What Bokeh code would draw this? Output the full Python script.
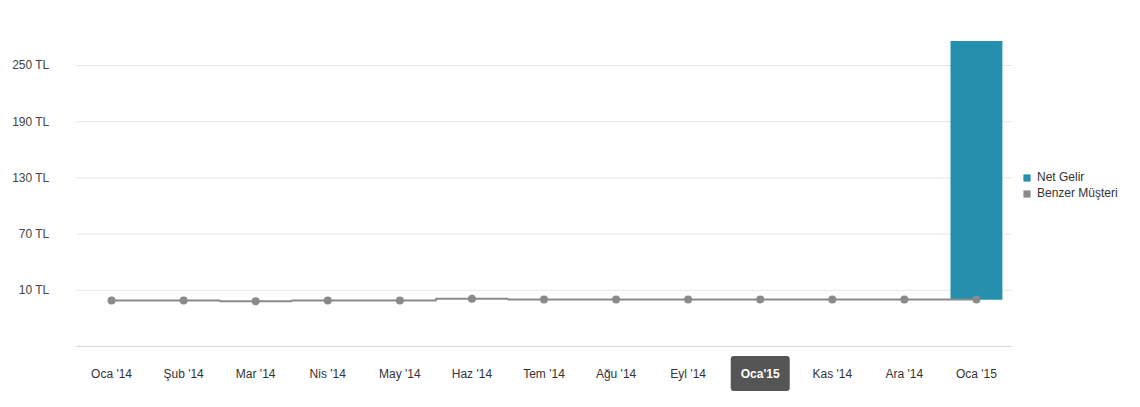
from bokeh.plotting import figure
from bokeh.models import (Range1d, FixedTicker, ColumnDataSource,
                          Legend, LegendItem)
from bokeh.core.properties import value
from bokeh.embed import file_html
from bokeh.resources import INLINE

categories = ["Oca '14", "Şub '14", "Mar '14", "Nis '14", "May '14", "Haz '14",
              "Tem '14", "Ağu '14", "Eyl '14", "Oca'15", "Kas '14", "Ara '14", "Oca '15"]
net_gelir_cat = ["Oca '15"]
net_gelir = [276]
benzer_musteri = [-0.8, -0.8, -1.8, -0.8, -0.8, 1.1, 0.3, 0.3, 0.3, 0.3, 0.3, 0.3, 0.3]
y_ticks = [10, 70, 130, 190, 250]
y_min, y_max = -50, 282
highlight_label = "Oca'15"

FONT = "Arial, Liberation Sans, sans-serif"
TEAL = "#2490ae"
GRAY = "#8a8a8a"

W, H = 1140, 407
LEFT, TOP = 75, 35
PLOT_W, PLOT_H = 937, 311          # the visible chart area (gridlines / axis line)
n = len(categories)
px_x = PLOT_W / n                  # pixels per category
px_y = PLOT_H / (y_max - y_min)    # pixels per TL

frame_w = W - LEFT
frame_h = H - TOP
x_end = frame_w / px_x
y_bottom = y_max - frame_h / px_y

pos = {c: i + 0.5 for i, c in enumerate(categories)}

p = figure(width=W, height=H, output_backend="svg", toolbar_location=None,
           x_range=Range1d(0, x_end), y_range=Range1d(y_bottom, y_max),
           min_border_left=LEFT, min_border_right=0, min_border_top=TOP,
           min_border_bottom=0)
p.outline_line_color = None
p.background_fill_color = "white"
p.xaxis.visible = False
p.xgrid.grid_line_color = None
p.ygrid.grid_line_color = None

# gridlines and axis line limited to the chart area
p.segment(x0=[0] * len(y_ticks), x1=[n] * len(y_ticks), y0=y_ticks, y1=y_ticks,
          line_color="#e6e6e6", line_width=1)
p.segment(x0=[0], x1=[n], y0=[y_min], y1=[y_min], line_color="#d8d8d8", line_width=1)

bars = p.vbar(x=[pos[c] for c in net_gelir_cat], top=net_gelir, bottom=0, width=0.72,
              fill_color=TEAL, line_color=None)
src = ColumnDataSource(dict(x=[pos[c] for c in categories], y=benzer_musteri))
p.step(x="x", y="y", source=src, mode="center", line_color=GRAY, line_width=2)
p.scatter(x="x", y="y", source=src, size=8, fill_color=GRAY, line_color=None)

dummy = p.vbar(x=[0.5], top=[0], bottom=[0], width=0.0,
               fill_color=GRAY, line_color=None)

# y axis
p.yaxis.ticker = FixedTicker(ticks=y_ticks)
p.yaxis.major_label_overrides = {t: f"{t} TL" for t in y_ticks}
p.yaxis.axis_line_color = None
p.yaxis.major_tick_line_color = None
p.yaxis.minor_tick_line_color = None
p.yaxis.major_tick_out = 0
p.yaxis.major_tick_in = 0
p.yaxis.major_label_standoff = 26
p.yaxis.major_label_text_font = FONT
p.yaxis.major_label_text_font_size = "12px"
p.yaxis.major_label_text_color = "#444444"

# x category labels
label_y = y_min - 27 / px_y
normal = [c for c in categories if c != highlight_label]
p.text(x=[pos[c] for c in normal], y=[label_y] * len(normal), text=normal,
       text_align="center", text_baseline="middle", text_font=value(FONT),
       text_font_size="12px", text_color="#333333")
hx = pos[highlight_label]
half_w = 29.5 / px_x
half_h = 17.5 / px_y
p.quad(left=[hx - half_w], right=[hx + half_w], bottom=[label_y - half_h],
       top=[label_y + half_h], fill_color="#555555", line_color=None,
       border_radius=3)
p.text(x=[hx], y=[label_y], text=[highlight_label],
       text_align="center", text_baseline="middle", text_font=value(FONT),
       text_font_size="12px", text_font_style="bold", text_color="white")

legend = Legend(items=[LegendItem(label="Net Gelir", renderers=[bars]),
                       LegendItem(label="Benzer Müşteri", renderers=[dummy])],
                location=(1022 - LEFT, H - 200), border_line_color=None,
                background_fill_alpha=0,
                label_text_font=FONT, label_text_font_size="12px",
                label_text_color="#333333", glyph_width=9, glyph_height=9,
                label_height=12, label_standoff=6, spacing=2, padding=0, margin=0)
p.add_layout(legend)

open("out.html", "w").write(file_html(p, INLINE))
